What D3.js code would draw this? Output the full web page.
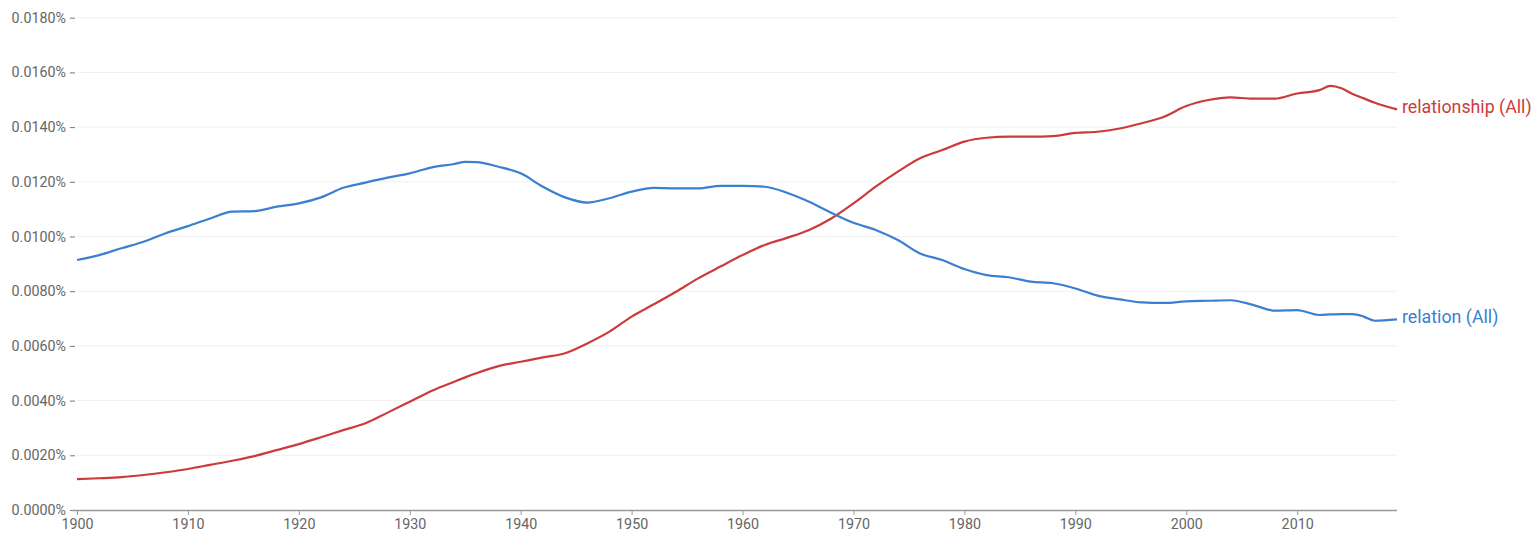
<!DOCTYPE html>
<html><head><meta charset="utf-8">
<script src="https://cdn.jsdelivr.net/npm/d3@7/dist/d3.min.js"></script>
<style>
body{margin:0;background:#fff;}
svg{font-family:Roboto, "Noto Sans", sans-serif;}
</style></head>
<body>
<svg id="chart" width="1536" height="534"></svg>
<script>
const years = [1900,1902,1904,1906,1908,1910,1912,1914,1916,1918,1920,1922,1924,1926,1928,1930,1932,1934,1935,1936,1938,1940,1942,1944,1946,1948,1950,1952,1954,1956,1958,1960,1962,1964,1966,1968,1970,1972,1974,1976,1978,1980,1982,1984,1986,1988,1990,1992,1994,1996,1998,2000,2002,2004,2006,2008,2010,2012,2013,2014,2015,2016,2017,2019];
const relationship = [0.00113,0.00116,0.00120,0.00128,0.00138,0.00150,0.00165,0.00180,0.00197,0.00219,0.00241,0.00266,0.00292,0.00317,0.00356,0.00396,0.00436,0.00469,0.00485,0.00500,0.00526,0.00542,0.00558,0.00573,0.00609,0.00652,0.00707,0.00752,0.00798,0.00847,0.00890,0.00932,0.00969,0.00995,0.01024,0.01066,0.01121,0.01182,0.01237,0.01286,0.01316,0.01347,0.01361,0.01365,0.01365,0.01367,0.01379,0.01383,0.01395,0.01414,0.01438,0.01477,0.01499,0.01509,0.01504,0.01504,0.01523,0.01535,0.01551,0.01542,0.01521,0.01505,0.01489,0.01465];
const relation = [0.00914,0.00932,0.00957,0.00981,0.01012,0.01038,0.01066,0.01091,0.01093,0.01109,0.01121,0.01143,0.01178,0.01197,0.01215,0.01231,0.01253,0.01265,0.01273,0.01272,0.01255,0.01231,0.01182,0.01143,0.01124,0.01140,0.01164,0.01178,0.01176,0.01176,0.01185,0.01185,0.01182,0.01160,0.01127,0.01087,0.01050,0.01024,0.00987,0.00938,0.00914,0.00881,0.00859,0.00851,0.00835,0.00829,0.00810,0.00784,0.00770,0.00759,0.00757,0.00763,0.00765,0.00767,0.00750,0.00729,0.00731,0.00713,0.00715,0.00716,0.00716,0.00707,0.00692,0.00697];
const yTicks = [0,0.002,0.004,0.006,0.008,0.010,0.012,0.014,0.016,0.018];
const xTicks = [1900,1910,1920,1930,1940,1950,1960,1970,1980,1990,2000,2010];
const seriesNames = ["relationship (All)","relation (All)"];
const seriesColors = ["#cc3b3b","#3a7fd0"];

const svg = d3.select("#chart");
const x = d3.scaleLinear().domain([1900,2019]).range([77,1397]);
const y = d3.scaleLinear().domain([0,0.018]).range([510,17.7]);

svg.append("g").selectAll("line").data(yTicks.slice(1)).join("line")
  .attr("x1",77).attr("x2",1397)
  .attr("y1",d=>y(d)).attr("y2",d=>y(d))
  .attr("stroke","#f0f0f0").attr("stroke-width",1);

const yAxis = svg.append("g").attr("transform","translate(75,0)")
  .call(d3.axisLeft(y).tickValues(yTicks).tickSize(5).tickPadding(4).tickFormat(d=>d3.format(".4f")(d)+"%"));
yAxis.select(".domain").remove();
yAxis.selectAll(".tick line").attr("stroke","#777");
yAxis.selectAll(".tick text").attr("fill","#666").attr("font-size",14.3).attr("font-family","Roboto, sans-serif");

const xAxis = svg.append("g").attr("transform","translate(0,510)")
  .call(d3.axisBottom(x).tickValues(xTicks).tickSize(5).tickPadding(4).tickFormat(d3.format("d")));
xAxis.select(".domain").attr("stroke","#999").attr("stroke-width",1.5).attr("d","M72,0.5H1397");
xAxis.selectAll(".tick line").attr("stroke","#999");
xAxis.selectAll(".tick text").attr("fill","#666").attr("font-size",14.3).attr("font-family","Roboto, sans-serif");

const line = d3.line().x((d,i)=>x(years[i])).y(d=>y(d)).curve(d3.curveMonotoneX);
[relationship, relation].forEach((s,k)=>{
  svg.append("path").datum(s).attr("d",line)
    .attr("fill","none").attr("stroke",seriesColors[k]).attr("stroke-width",2.2)
    .attr("stroke-linejoin","round");
  svg.append("text").attr("x",x(2019)+5).attr("y",y(s[s.length-1])-3)
    .attr("dy","0.35em").attr("fill",seriesColors[k]).attr("font-size",17.8)
    .attr("font-family","Roboto, sans-serif").text(seriesNames[k]);
});
</script>
</body></html>
